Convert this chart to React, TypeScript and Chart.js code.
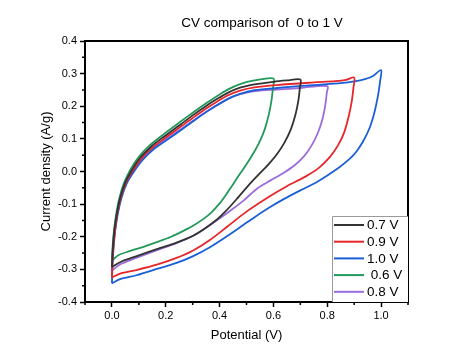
import React, { useEffect, useRef } from 'react';
import { Chart, registerables } from 'chart.js';

Chart.register(...registerables);

const FONT = "'Liberation Sans', Arial, Helvetica, sans-serif";

const chartTitle = 'CV comparison of  0 to 1 V';
const xAxisTitle = 'Potential (V)';
const yAxisTitle = 'Current density (A/g)';

const xMajorTicks = [0, 0.2, 0.4, 0.6, 0.8, 1.0];
const xMinorTicks = [-0.1, 0.1, 0.3, 0.5, 0.7, 0.9, 1.1];
const yMajorTicks = [-0.4, -0.3, -0.2, -0.1, 0, 0.1, 0.2, 0.3, 0.4];
const yMinorTicks = [-0.35, -0.25, -0.15, -0.05, 0.05, 0.15, 0.25, 0.35];

const seriesLabels = ['0.7 V', '0.9 V', '1.0 V', ' 0.6 V', '0.8 V'];
const seriesColors = ['#333333', '#e6262b', '#1b5fd6', '#22995a', '#9a6cdc'];

// 0.7 V window (anodic sweep, then cathodic sweep)
const potential07 = [0, 0.003, 0.009, 0.018, 0.031, 0.049, 0.073, 0.105, 0.145, 0.195, 0.255, 0.3, 0.35, 0.39, 0.43, 0.476, 0.53, 0.6, 0.65, 0.7,
  0.698, 0.693, 0.682, 0.665, 0.642, 0.615, 0.585, 0.55, 0.513, 0.463, 0.42, 0.389, 0.34, 0.302, 0.24, 0.178, 0.09, 0.03, 0];
const current07 = [-0.293, -0.24, -0.18, -0.13, -0.08, -0.035, 0.003, 0.042, 0.076, 0.108, 0.144, 0.172, 0.201, 0.222, 0.241, 0.257, 0.267, 0.275, 0.279, 0.282,
  0.255, 0.219, 0.175, 0.13, 0.09, 0.055, 0.025, -0.005, -0.037, -0.085, -0.124, -0.148, -0.178, -0.197, -0.218, -0.235, -0.26, -0.278, -0.293];

// 0.9 V window
const potential09 = [0, 0.003, 0.01, 0.02, 0.033, 0.052, 0.077, 0.11, 0.15, 0.2, 0.26, 0.3, 0.35, 0.39, 0.43, 0.476, 0.53, 0.613, 0.75, 0.83, 0.87, 0.9,
  0.897, 0.891, 0.88, 0.863, 0.84, 0.81, 0.77, 0.72, 0.65, 0.588, 0.5, 0.43, 0.364, 0.3, 0.24, 0.17, 0.091, 0.03, 0];
const current09 = [-0.325, -0.26, -0.19, -0.13, -0.08, -0.035, 0.002, 0.04, 0.073, 0.104, 0.14, 0.164, 0.193, 0.214, 0.233, 0.248, 0.258, 0.265, 0.273, 0.277, 0.281, 0.288,
  0.255, 0.215, 0.17, 0.12, 0.08, 0.045, 0.012, -0.015, -0.045, -0.075, -0.123, -0.168, -0.21, -0.243, -0.265, -0.285, -0.302, -0.313, -0.325];

// 1.0 V window
const potential10 = [0, 0.003, 0.011, 0.022, 0.036, 0.056, 0.082, 0.115, 0.155, 0.205, 0.265, 0.3, 0.35, 0.39, 0.43, 0.476, 0.53, 0.613, 0.75, 0.85, 0.9, 0.94, 0.97, 1.0,
  0.996, 0.988, 0.975, 0.958, 0.935, 0.91, 0.885, 0.84, 0.762, 0.7, 0.64, 0.588, 0.53, 0.488, 0.43, 0.364, 0.3, 0.24, 0.17, 0.091, 0.03, 0];
const current10 = [-0.343, -0.27, -0.19, -0.13, -0.08, -0.035, 0.0, 0.036, 0.068, 0.097, 0.132, 0.153, 0.182, 0.203, 0.222, 0.238, 0.249, 0.256, 0.265, 0.271, 0.276, 0.283, 0.293, 0.311,
  0.275, 0.23, 0.18, 0.135, 0.095, 0.063, 0.04, 0.01, -0.032, -0.058, -0.084, -0.109, -0.14, -0.164, -0.197, -0.232, -0.26, -0.28, -0.298, -0.318, -0.33, -0.343];

// 0.6 V window
const potential06 = [0, 0.003, 0.008, 0.016, 0.028, 0.045, 0.068, 0.1, 0.14, 0.19, 0.25, 0.3, 0.35, 0.39, 0.43, 0.476, 0.53, 0.6,
  0.598, 0.593, 0.583, 0.568, 0.548, 0.525, 0.5, 0.475, 0.451, 0.425, 0.401, 0.37, 0.339, 0.3, 0.265, 0.22, 0.178, 0.12, 0.066, 0.025, 0];
const current06 = [-0.273, -0.225, -0.18, -0.13, -0.08, -0.035, 0.005, 0.045, 0.08, 0.113, 0.15, 0.18, 0.209, 0.231, 0.251, 0.268, 0.279, 0.285,
  0.255, 0.219, 0.175, 0.13, 0.09, 0.055, 0.022, -0.008, -0.038, -0.07, -0.097, -0.125, -0.146, -0.167, -0.182, -0.2, -0.213, -0.23, -0.244, -0.256, -0.273];

// 0.8 V window
const potential08 = [0, 0.003, 0.01, 0.02, 0.034, 0.054, 0.079, 0.112, 0.152, 0.2, 0.26, 0.3, 0.35, 0.414, 0.45, 0.5, 0.55, 0.613, 0.7, 0.8,
  0.798, 0.793, 0.782, 0.765, 0.742, 0.715, 0.68, 0.64, 0.588, 0.54, 0.488, 0.44, 0.389, 0.34, 0.302, 0.24, 0.178, 0.09, 0.03, 0];
const current08 = [-0.304, -0.25, -0.19, -0.13, -0.08, -0.035, 0.0, 0.037, 0.07, 0.098, 0.132, 0.155, 0.183, 0.215, 0.23, 0.242, 0.248, 0.251, 0.256, 0.262,
  0.24, 0.205, 0.16, 0.118, 0.08, 0.048, 0.02, -0.003, -0.028, -0.052, -0.09, -0.12, -0.15, -0.178, -0.197, -0.22, -0.238, -0.265, -0.285, -0.304];

const seriesPotentials = [potential07, potential09, potential10, potential06, potential08];
const seriesCurrents = [current07, current09, current10, current06, current08];

const decorPlugin = {
  id: 'decor',
  afterDraw(chart: any) {
    const { ctx, chartArea: ca, scales } = chart;
    const xs = scales.x;
    const ys = scales.y;
    ctx.save();
    // frame
    ctx.strokeStyle = '#000';
    ctx.lineWidth = 2;
    ctx.strokeRect(ca.left, ca.top, ca.right - ca.left, ca.bottom - ca.top);
    // minor ticks
    ctx.lineWidth = 1.5;
    ctx.beginPath();
    xMinorTicks.forEach((v) => {
      const px = xs.getPixelForValue(v);
      ctx.moveTo(px, ca.bottom);
      ctx.lineTo(px, ca.bottom + 3);
    });
    yMinorTicks.forEach((v) => {
      const py = ys.getPixelForValue(v);
      ctx.moveTo(ca.left, py);
      ctx.lineTo(ca.left - 3, py);
    });
    ctx.stroke();
    // title
    ctx.fillStyle = '#000';
    ctx.font = `13.5px ${FONT}`;
    ctx.textAlign = 'center';
    ctx.textBaseline = 'middle';
    ctx.fillText(chartTitle, ca.left + (ca.right - ca.left) * 0.548, 23);
    // legend
    const lw = 76;
    const lh = 86;
    const lx = ca.right - lw;
    const ly = ca.bottom - lh;
    ctx.fillStyle = '#fff';
    ctx.fillRect(lx, ly, lw, lh);
    ctx.strokeStyle = '#9a9a9a';
    ctx.lineWidth = 1;
    ctx.beginPath();
    ctx.moveTo(lx + 0.5, ca.bottom);
    ctx.lineTo(lx + 0.5, ly + 0.5);
    ctx.lineTo(ca.right, ly + 0.5);
    ctx.stroke();
    ctx.font = `13.5px ${FONT}`;
    ctx.textAlign = 'left';
    ctx.textBaseline = 'middle';
    chart.data.datasets.forEach((ds: any, i: number) => {
      const cy = ly + 9 + i * 16.7;
      ctx.strokeStyle = ds.borderColor;
      ctx.lineWidth = 2;
      ctx.beginPath();
      ctx.moveTo(lx + 2, cy);
      ctx.lineTo(lx + 32, cy);
      ctx.stroke();
      ctx.fillStyle = '#000';
      ctx.fillText(ds.label, lx + 35, cy + 0.5);
    });
    ctx.restore();
  },
};

export default function App() {
  const ref = useRef<HTMLCanvasElement | null>(null);

  useEffect(() => {
    if (!ref.current) return;
    const datasets = seriesLabels.map((label, i) => ({
      label,
      data: seriesPotentials[i].map((x, j) => ({ x, y: seriesCurrents[i][j] })),
      borderColor: seriesColors[i],
      backgroundColor: seriesColors[i],
      borderWidth: 1.8,
      pointRadius: 0,
      showLine: true,
      fill: false,
      tension: 0.3,
    }));
    const tickFont = { family: FONT, size: 11 };
    const chart = new Chart(ref.current, {
      type: 'scatter',
      data: { datasets },
      options: {
        animation: false,
        responsive: false,
        maintainAspectRatio: false,
        layout: { padding: { left: 0, right: 66, top: 41, bottom: 0 } },
        plugins: {
          legend: { display: false },
          title: { display: false },
          tooltip: { enabled: false },
        },
        scales: {
          x: {
            type: 'linear',
            min: -0.1,
            max: 1.1,
            afterBuildTicks: (s: any) => { s.ticks = xMajorTicks.map((v) => ({ value: v })); },
            afterFit: (s: any) => { s.height = 60; },
            grid: { drawOnChartArea: false, drawTicks: true, tickLength: 5, tickColor: '#000', tickWidth: 1.5 },
            border: { display: false },
            ticks: {
              color: '#000',
              font: tickFont,
              padding: 2,
              maxRotation: 0,
              autoSkip: false,
              callback: (v: any) => Number(v).toFixed(1),
            },
            title: {
              display: true,
              text: xAxisTitle,
              color: '#000',
              font: { family: FONT, size: 13 },
              padding: { top: 0, bottom: 19 },
            },
          },
          y: {
            type: 'linear',
            min: -0.4,
            max: 0.4,
            afterBuildTicks: (s: any) => { s.ticks = yMajorTicks.map((v) => ({ value: v })); },
            afterFit: (s: any) => { s.width = 85; },
            grid: { drawOnChartArea: false, drawTicks: true, tickLength: 5, tickColor: '#000', tickWidth: 1.5 },
            border: { display: false },
            ticks: {
              color: '#000',
              font: tickFont,
              padding: 3,
              autoSkip: false,
              callback: (v: any) => Number(v).toFixed(1),
            },
            title: {
              display: true,
              text: yAxisTitle,
              color: '#000',
              font: { family: FONT, size: 13 },
              padding: { top: 39, bottom: 0 },
            },
          },
        },
      },
      plugins: [decorPlugin],
    });
    return () => chart.destroy();
  }, []);

  return (
    <div style={{ position: 'fixed', left: 0, top: 0, width: 474, height: 362, background: '#fff' }}>
      <canvas ref={ref} width={474} height={362} style={{ width: 474, height: 362, display: 'block' }} />
    </div>
  );
}
